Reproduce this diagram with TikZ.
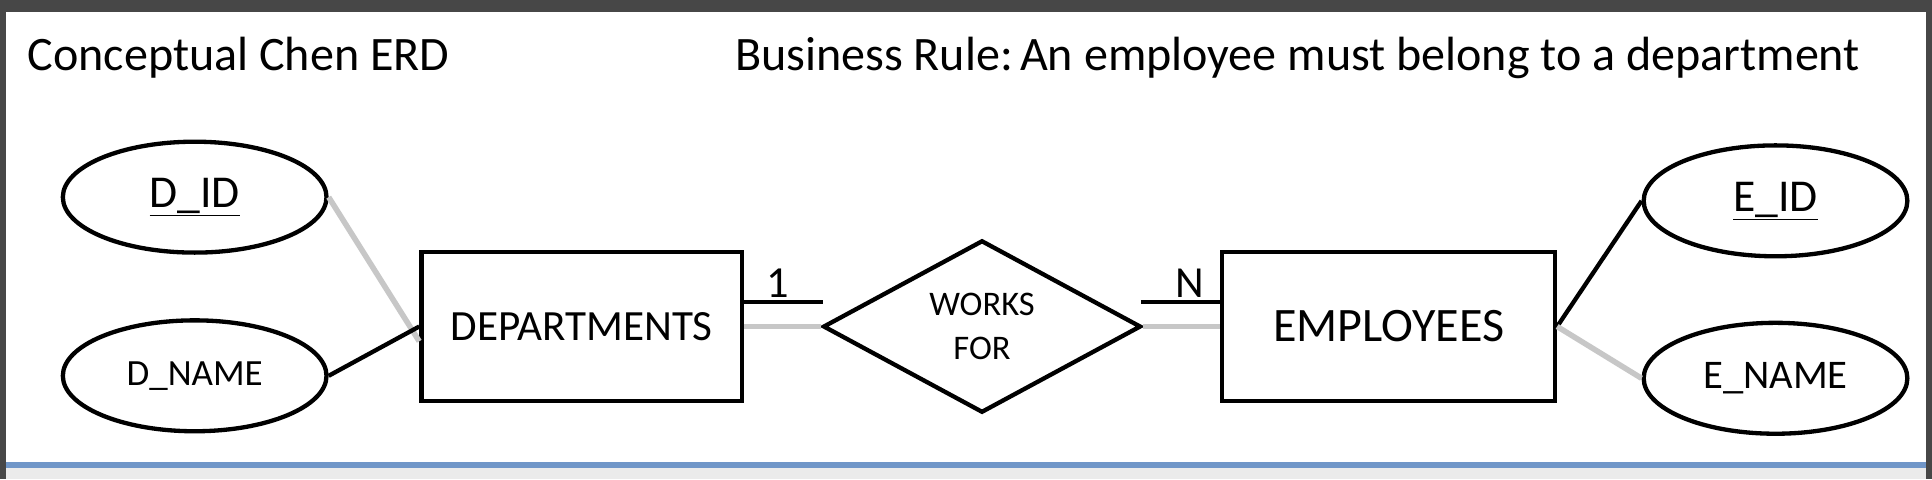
\documentclass[tikz,border=0pt]{standalone}
\usepackage{fontspec}
\setmainfont{Carlito}
\usetikzlibrary{shapes.geometric}
\begin{document}
\begin{tikzpicture}[x=1pt,y=-1pt,
  ent/.style={draw,line width=3.5pt,minimum width=260pt,minimum height=121pt,font=\fontsize{35}{38}\selectfont},
  att/.style={draw,ellipse,line width=3.5pt,minimum width=214pt,minimum height=90pt},
  rel/.style={draw,diamond,line width=3.5pt,minimum width=258pt,minimum height=121pt,inner sep=0pt,align=center,font=\fontsize{28}{36}\selectfont},
  bl/.style={line width=3.5pt},
  gl/.style={line width=4.5pt,black!22},
  card/.style={font=\fontsize{36}{36}\selectfont,inner sep=0pt}]
\useasboundingbox (0,0) rectangle (1568,389);
\fill[white] (0,0) rectangle (1568,389);
\fill[black!72] (0,0) rectangle (1568,10);
\fill[black!72] (0,0) rectangle (5,389);
\fill[black!72] (1563,0) rectangle (1568,389);
\fill[black!8] (5,380) rectangle (1563,389);
\fill[fill={rgb,255:red,112;green,150;blue,200}] (5,375) rectangle (1563,380);
\node[anchor=west,font=\fontsize{39}{41}\selectfont] (t1) at (19,47) {Conceptual Chen ERD};
\node[anchor=west,font=\fontsize{39}{41}\selectfont] (t2) at (593,47) {Business Rule:\hspace{-0.15em} An employee must belong to a department};
\node[att,font=\fontsize{37}{40}\selectfont] (did) at (158,160) {\underline{D\_ID}};
\node[att,font=\fontsize{30}{34}\selectfont] (dname) at (158,305) {D\_NAME};
\node[att,font=\fontsize{37}{40}\selectfont] (eid) at (1441,163) {\underline{E\_ID}};
\node[att,font=\fontsize{33}{36}\selectfont] (ename) at (1441,307) {E\_NAME};
\node[ent] (dep) at (472,265) {DEPARTMENTS};
\node[ent,minimum width=270pt,font=\fontsize{39}{42}\selectfont] (emp) at (1127,265) {EMPLOYEES};
\node[rel] (wf) at (797,265) {WORKS\\FOR};
\draw[gl] (dep.east) -- (wf.west);
\draw[gl] (wf.east) -- (emp.west);
\draw[gl] (did.east) -- ([yshift=-12pt]dep.west);
\draw[bl] (dname.east) -- (dep.west);
\draw[bl] (eid.west) -- (emp.east);
\draw[gl] (emp.east) -- (ename.west);
\coordinate (c1a) at (602,245); \coordinate (c1b) at (668,245);
\coordinate (c2a) at (926,245); \coordinate (c2b) at (990,245);
\draw[bl] (c1a) -- (c1b);
\draw[bl] (c2a) -- (c2b);
\node[card] (one) at (631,230) {1};
\node[card] (n) at (966,230) {N};
\end{tikzpicture}
\end{document}
